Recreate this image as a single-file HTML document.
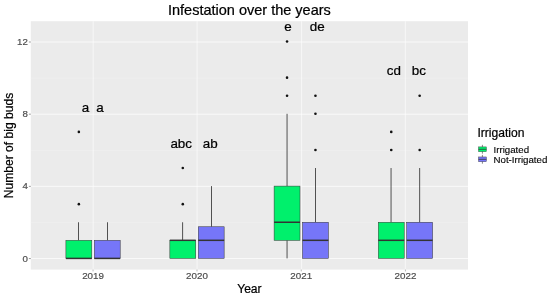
<!DOCTYPE html>
<html><head><meta charset="utf-8"><title>Infestation over the years</title>
<style>html,body{margin:0;padding:0;background:#fff}svg{display:block}text{font-family:"Liberation Sans",Arial,Helvetica,sans-serif}</style>
</head><body>
<svg width="550" height="297" viewBox="0 0 550 297">
<rect width="550" height="297" fill="#fff"/>
<rect x="30.8" y="21.2" width="437.2" height="248.40000000000003" fill="#EBEBEB"/>
<line x1="30.8" x2="468.0" y1="222.46" y2="222.46" stroke="#F6F6F6" stroke-width="0.4"/>
<line x1="30.8" x2="468.0" y1="150.27" y2="150.27" stroke="#F6F6F6" stroke-width="0.4"/>
<line x1="30.8" x2="468.0" y1="78.09" y2="78.09" stroke="#F6F6F6" stroke-width="0.4"/>
<line x1="30.8" x2="468.0" y1="258.55" y2="258.55" stroke="#FFFFFF" stroke-width="0.72"/>
<line x1="30.8" x2="468.0" y1="186.37" y2="186.37" stroke="#FFFFFF" stroke-width="0.72"/>
<line x1="30.8" x2="468.0" y1="114.18" y2="114.18" stroke="#FFFFFF" stroke-width="0.72"/>
<line x1="30.8" x2="468.0" y1="42.00" y2="42.00" stroke="#FFFFFF" stroke-width="0.72"/>
<line x1="93.20" x2="93.20" y1="21.2" y2="269.6" stroke="#FFFFFF" stroke-width="0.62"/>
<line x1="197.10" x2="197.10" y1="21.2" y2="269.6" stroke="#FFFFFF" stroke-width="0.62"/>
<line x1="301.60" x2="301.60" y1="21.2" y2="269.6" stroke="#FFFFFF" stroke-width="0.62"/>
<line x1="405.30" x2="405.30" y1="21.2" y2="269.6" stroke="#FFFFFF" stroke-width="0.62"/>
<circle cx="78.85" cy="204.17" r="1.3" fill="#111"/>
<circle cx="78.85" cy="131.88" r="1.3" fill="#111"/>
<line x1="78.50" x2="78.50" y1="240.32" y2="222.25" stroke="#404040" stroke-width="0.9"/>
<rect x="65.90" y="240.32" width="25.9" height="18.07" fill="#00F06C" stroke="#333" stroke-width="0.5"/>
<line x1="65.90" x2="91.80" y1="258.40" y2="258.40" stroke="#333" stroke-width="1.5"/>
<line x1="107.50" x2="107.50" y1="240.32" y2="222.25" stroke="#404040" stroke-width="0.9"/>
<rect x="94.30" y="240.32" width="25.9" height="18.07" fill="#7676F8" stroke="#333" stroke-width="0.5"/>
<line x1="94.30" x2="120.20" y1="258.40" y2="258.40" stroke="#333" stroke-width="1.5"/>
<circle cx="182.80" cy="204.17" r="1.3" fill="#111"/>
<circle cx="182.80" cy="168.02" r="1.3" fill="#111"/>
<line x1="182.60" x2="182.60" y1="240.32" y2="222.25" stroke="#404040" stroke-width="0.9"/>
<rect x="169.85" y="240.32" width="25.9" height="18.07" fill="#00F06C" stroke="#333" stroke-width="0.5"/>
<line x1="169.85" x2="195.75" y1="240.32" y2="240.32" stroke="#333" stroke-width="1.5"/>
<line x1="211.50" x2="211.50" y1="226.77" y2="186.10" stroke="#404040" stroke-width="0.9"/>
<rect x="198.25" y="226.77" width="25.9" height="31.63" fill="#7676F8" stroke="#333" stroke-width="0.5"/>
<line x1="198.25" x2="224.15" y1="240.32" y2="240.32" stroke="#333" stroke-width="1.5"/>
<circle cx="287.05" cy="95.72" r="1.3" fill="#111"/>
<circle cx="287.05" cy="77.65" r="1.3" fill="#111"/>
<circle cx="287.05" cy="41.50" r="1.3" fill="#111"/>
<line x1="287.05" x2="287.05" y1="186.10" y2="113.80" stroke="#404040" stroke-width="0.9"/>
<line x1="287.05" x2="287.05" y1="240.32" y2="258.40" stroke="#404040" stroke-width="0.9"/>
<rect x="274.10" y="186.10" width="25.9" height="54.23" fill="#00F06C" stroke="#333" stroke-width="0.5"/>
<line x1="274.10" x2="300.00" y1="222.25" y2="222.25" stroke="#333" stroke-width="1.5"/>
<circle cx="315.45" cy="149.95" r="1.3" fill="#111"/>
<circle cx="315.45" cy="113.80" r="1.3" fill="#111"/>
<circle cx="315.45" cy="95.72" r="1.3" fill="#111"/>
<line x1="315.50" x2="315.50" y1="222.25" y2="168.02" stroke="#404040" stroke-width="0.9"/>
<rect x="302.50" y="222.25" width="25.9" height="36.15" fill="#7676F8" stroke="#333" stroke-width="0.5"/>
<line x1="302.50" x2="328.40" y1="240.32" y2="240.32" stroke="#333" stroke-width="1.5"/>
<circle cx="391.25" cy="149.95" r="1.3" fill="#111"/>
<circle cx="391.25" cy="131.88" r="1.3" fill="#111"/>
<line x1="391.05" x2="391.05" y1="222.25" y2="168.02" stroke="#404040" stroke-width="0.9"/>
<rect x="378.30" y="222.25" width="25.9" height="36.15" fill="#00F06C" stroke="#333" stroke-width="0.5"/>
<line x1="378.30" x2="404.20" y1="240.32" y2="240.32" stroke="#333" stroke-width="1.5"/>
<circle cx="419.65" cy="149.95" r="1.3" fill="#111"/>
<circle cx="419.65" cy="95.72" r="1.3" fill="#111"/>
<line x1="419.65" x2="419.65" y1="222.25" y2="168.02" stroke="#404040" stroke-width="0.9"/>
<rect x="406.70" y="222.25" width="25.9" height="36.15" fill="#7676F8" stroke="#333" stroke-width="0.5"/>
<line x1="406.70" x2="432.60" y1="240.32" y2="240.32" stroke="#333" stroke-width="1.5"/>
<text x="85.40" y="111.70" font-size="13.4" text-anchor="middle" fill="#000" stroke="#000" stroke-width="0.22">a</text>
<text x="100.00" y="111.70" font-size="13.4" text-anchor="middle" fill="#000" stroke="#000" stroke-width="0.22">a</text>
<text x="181.20" y="148.00" font-size="13.4" text-anchor="middle" fill="#000" stroke="#000" stroke-width="0.22">abc</text>
<text x="210.20" y="148.00" font-size="13.4" text-anchor="middle" fill="#000" stroke="#000" stroke-width="0.22">ab</text>
<text x="287.90" y="30.60" font-size="13.4" text-anchor="middle" fill="#000" stroke="#000" stroke-width="0.22">e</text>
<text x="317.20" y="30.60" font-size="13.4" text-anchor="middle" fill="#000" stroke="#000" stroke-width="0.22">de</text>
<text x="393.80" y="75.10" font-size="13.4" text-anchor="middle" fill="#000" stroke="#000" stroke-width="0.22">cd</text>
<text x="418.80" y="75.10" font-size="13.4" text-anchor="middle" fill="#000" stroke="#000" stroke-width="0.22">bc</text>
<line x1="28.900000000000002" x2="30.8" y1="258.55" y2="258.55" stroke="#555" stroke-width="0.6"/>
<text x="27.80" y="261.55" font-size="9.7" text-anchor="end" fill="#4D4D4D" stroke="#4D4D4D" stroke-width="0.2">0</text>
<line x1="28.900000000000002" x2="30.8" y1="186.37" y2="186.37" stroke="#555" stroke-width="0.6"/>
<text x="27.80" y="189.37" font-size="9.7" text-anchor="end" fill="#4D4D4D" stroke="#4D4D4D" stroke-width="0.2">4</text>
<line x1="28.900000000000002" x2="30.8" y1="114.18" y2="114.18" stroke="#555" stroke-width="0.6"/>
<text x="27.80" y="117.18" font-size="9.7" text-anchor="end" fill="#4D4D4D" stroke="#4D4D4D" stroke-width="0.2">8</text>
<line x1="28.900000000000002" x2="30.8" y1="42.00" y2="42.00" stroke="#555" stroke-width="0.6"/>
<text x="27.80" y="45.00" font-size="9.7" text-anchor="end" fill="#4D4D4D" stroke="#4D4D4D" stroke-width="0.2">12</text>
<line x1="93.05" x2="93.05" y1="269.6" y2="271.40000000000003" stroke="#888" stroke-width="0.6"/>
<text x="93.05" y="279.30" font-size="9.8" text-anchor="middle" fill="#4D4D4D" stroke="#4D4D4D" stroke-width="0.2">2019</text>
<line x1="197.00" x2="197.00" y1="269.6" y2="271.40000000000003" stroke="#888" stroke-width="0.6"/>
<text x="197.00" y="279.30" font-size="9.8" text-anchor="middle" fill="#4D4D4D" stroke="#4D4D4D" stroke-width="0.2">2020</text>
<line x1="301.25" x2="301.25" y1="269.6" y2="271.40000000000003" stroke="#888" stroke-width="0.6"/>
<text x="301.25" y="279.30" font-size="9.8" text-anchor="middle" fill="#4D4D4D" stroke="#4D4D4D" stroke-width="0.2">2021</text>
<line x1="405.45" x2="405.45" y1="269.6" y2="271.40000000000003" stroke="#888" stroke-width="0.6"/>
<text x="405.45" y="279.30" font-size="9.8" text-anchor="middle" fill="#4D4D4D" stroke="#4D4D4D" stroke-width="0.2">2022</text>
<text x="249.40" y="15.3" font-size="14.5" text-anchor="middle" fill="#000" stroke="#000" stroke-width="0.22">Infestation over the years</text>
<text x="249.40" y="292.7" font-size="12.1" text-anchor="middle" fill="#000" stroke="#000" stroke-width="0.22">Year</text>
<text transform="translate(12.9,145.50) rotate(-90)" font-size="12.1" text-anchor="middle" fill="#000" stroke="#000" stroke-width="0.22">Number of big buds</text>
<text x="477.4" y="137.05" font-size="12.1" fill="#000" stroke="#000" stroke-width="0.22">Irrigation</text>
<line x1="482.4" x2="482.4" y1="144.85" y2="153.65" stroke="#333" stroke-width="0.6"/>
<rect x="478.5" y="146.90" width="7.9" height="4.8" fill="#00F06C" stroke="#444" stroke-width="0.45"/>
<line x1="478.5" x2="486.4" y1="149.30" y2="149.30" stroke="#333" stroke-width="0.75"/>
<text x="493.5" y="152.70" font-size="9.7" fill="#000" stroke="#000" stroke-width="0.12">Irrigated</text>
<line x1="482.4" x2="482.4" y1="154.90" y2="163.70" stroke="#333" stroke-width="0.6"/>
<rect x="478.5" y="156.95" width="7.9" height="4.8" fill="#7676F8" stroke="#444" stroke-width="0.45"/>
<line x1="478.5" x2="486.4" y1="159.35" y2="159.35" stroke="#333" stroke-width="0.75"/>
<text x="493.5" y="162.90" font-size="9.7" fill="#000" stroke="#000" stroke-width="0.12">Not-Irrigated</text>
</svg>
</body></html>
